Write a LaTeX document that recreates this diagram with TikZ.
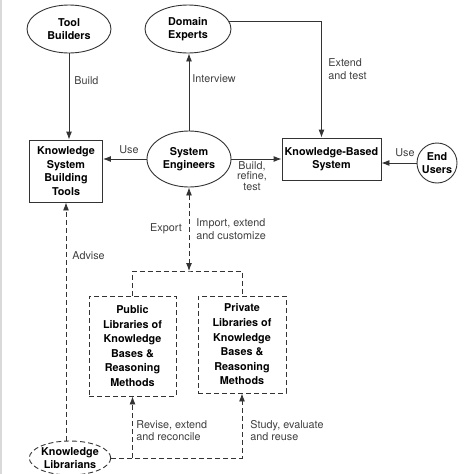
\documentclass[tikz,border=0pt]{standalone}
\usepackage{fontspec}
\setmainfont{TeX Gyre Heros}
\usetikzlibrary{arrows.meta,shapes.geometric,calc}
\begin{document}
\begin{tikzpicture}[x=1pt,y=-1pt,
  every node/.style={font=\fontsize{10.8}{13.5}\selectfont, text=black!75, inner sep=0pt},
  lbl/.style={font=\bfseries\fontsize{10.8}{13.5}\selectfont, align=center, text=black},
  ell/.style={draw, ellipse, lbl},
  box/.style={draw, rectangle, lbl},
  dsh/.style={dash pattern=on 5pt off 3pt},
  >={Latex[length=8pt,width=6pt]},
  line width=0.9pt, draw=black!80
]
\useasboundingbox (0,0) rectangle (474,474);
\fill[white] (0,0) rectangle (474,474);
\fill[black!15] (0,0) rectangle (2,474);

% nodes
\node[ell, minimum width=84, minimum height=48] (tb) at (69,29) {Tool\\Builders};
\node[ell, minimum width=86, minimum height=48] (de) at (188,29) {Domain\\Experts};
\node[box, minimum width=73, minimum height=62] (ksbt) at (66,171) {Knowledge\\System\\Building\\Tools};
\node[ell, minimum width=84, minimum height=56] (se) at (189,159) {System\\Engineers};
\node[box, minimum width=99, minimum height=42] (kbs) at (331.5,159) {Knowledge-Based\\System};
\node[draw, circle, lbl, minimum size=40] (eu) at (437,163) {End\\Users};
\node[box, dsh, minimum width=87, minimum height=100, font=\bfseries\fontsize{10.8}{14.6}\selectfont] (pub) at (132.5,346) {Public\\Libraries of\\Knowledge\\Bases \&\\Reasoning\\Methods};
\node[box, dsh, minimum width=88, minimum height=97, font=\bfseries\fontsize{10.8}{14.6}\selectfont] (priv) at (242,344.5) {Private\\Libraries of\\Knowledge\\Bases \&\\Reasoning\\Methods};
\node[ell, dsh, minimum width=80, minimum height=34] (kl) at (70,458) {Knowledge\\Librarians};
\coordinate (j) at (189,271);

% solid connectors
\draw[->] (tb.south) -- (tb.south |- ksbt.north);
\node[anchor=west] (lbuild) at (74,81) {Build};
\draw[->] (se.west) -- (ksbt.east |- se.west);
\node (luse1) at (129,150) {Use};
\draw[->] (se.north) -- (se.north |- de.south);
\node[anchor=west] (lint) at (192,79) {Interview};
\draw[->] (de.10) -| ([xshift=-10pt]kbs.north);
\node[anchor=west, align=left] (lext) at (328,69) {Extend\\and test};
\draw[->] (se.east) -- (kbs.west |- se.east);
\node[align=center, font=\fontsize{10.8}{10.5}\selectfont] (lbrt) at (252,176) {Build,\\refine,\\test};
\draw[->] (eu.west) -- (kbs.east |- eu.west);
\node (luse2) at (405,153) {Use};

% dashed connectors
\draw[dsh, <->] (se.south) -- (j);
\draw[dsh] (pub.north) |- (j) -| (priv.north);
\node (lexp) at (166,229) {Export};
\node[anchor=west, align=left] (limp) at (196,229) {Import, extend\\and customize};
\draw[dsh, ->] (ksbt.south |- kl.north) -- (ksbt.south);
\node[anchor=west] (ladv) at (72,256) {Advise};
\draw[dsh, ->] (kl.east) -| (priv.south);
\draw[dsh, ->] (pub.south |- kl.east) -- (pub.south);
\node[anchor=west, align=left, font=\fontsize{10.8}{12}\selectfont] (lrev) at (136,431) {Revise, extend\\and reconcile};
\node[anchor=west, align=left, font=\fontsize{10.8}{12}\selectfont] (lstu) at (250,431) {Study, evaluate\\and reuse};
\end{tikzpicture}
\end{document}
